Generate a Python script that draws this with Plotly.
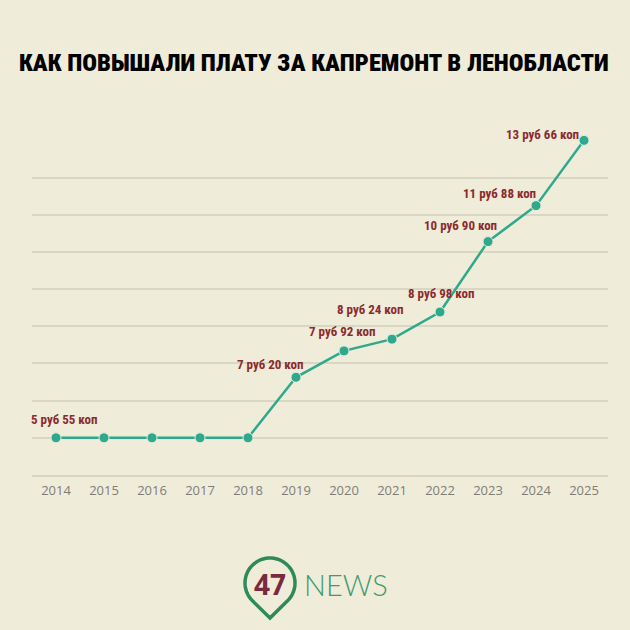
import math
import plotly.graph_objects as go

years = ["2014", "2015", "2016", "2017", "2018", "2019", "2020", "2021", "2022", "2023", "2024", "2025"]
rates = [5.55, 5.55, 5.55, 5.55, 5.55, 7.20, 7.92, 8.24, 8.98, 10.90, 11.88, 13.66]
label_years = ["2014", "2019", "2020", "2021", "2022", "2023", "2024", "2025"]
label_texts = ["5 руб 55 коп", "7 руб 20 коп", "7 руб 92 коп", "8 руб 24 коп",
               "8 руб 98 коп", "10 руб 90 коп", "11 руб 88 коп", "13 руб 66 коп"]
title_text = "КАК ПОВЫШАЛИ ПЛАТУ ЗА КАПРЕМОНТ В ЛЕНОБЛАСТИ"

BG = "#f0ecda"
GRID = "#dad6c4"
LINE = "#2fa98c"
LABEL = "#8a2b2e"
COND = "Liberation Sans Narrow, Roboto Condensed, DejaVu Sans Condensed, Roboto, sans-serif"

# label offsets in pixels (style only)
shifts = [(8, 18), (-26, 13), (-2, 19), (-22, 30), (1, 19), (-28, 16), (-37, 12), (-42, 6)]

L, R, T, B = 32, 22, 140, 155
W = H = 630
ph = H - T - B
pw = W - L - R

def px_x(p):
    return (p - L) / pw

def px_y(p):
    return (H - B - p) / ph

ymin, ymax = min(rates), max(rates)
step = (ymax - ymin) / 8
y0 = ymin - step

fig = go.Figure()
fig.add_trace(go.Scatter(
    x=years, y=rates, mode="lines+markers",
    line=dict(color=LINE, width=2.5),
    marker=dict(color=LINE, size=10, line=dict(color="#e6efe0", width=1)),
    cliponaxis=False, hoverinfo="skip", showlegend=False,
))

for yr, txt, (dx, dy) in zip(label_years, label_texts, shifts):
    i = years.index(yr)
    fig.add_annotation(x=i, y=rates[i], text=txt, showarrow=False,
                       xshift=dx, yshift=dy, xanchor="center", yanchor="middle",
                       font=dict(family=COND, size=13, color=LABEL, weight="bold"))

fig.add_annotation(xref="paper", yref="paper", x=px_x(314), y=px_y(63), text=title_text,
                   showarrow=False, xanchor="center", yanchor="middle",
                   font=dict(family=COND, size=24.5, color="#000000", weight=900))

# logo
fig.add_annotation(xref="paper", yref="paper", x=px_x(270), y=px_y(584), text="47",
                   showarrow=False, xanchor="center", yanchor="middle",
                   font=dict(family="Open Sans, Roboto, sans-serif", size=28, color="#7a2a40", weight="bold"))
fig.add_annotation(xref="paper", yref="paper", x=px_x(302), y=px_y(584), text="NEWS",
                   showarrow=False, xanchor="left", yanchor="middle",
                   font=dict(family="Lato, Open Sans, sans-serif", size=29, color="#3f9a6c", weight=300))

r, tip = 25, 35
th = math.degrees(math.acos(r / tip))
a_start, a_end = -90 + th, 270 - th
pts = []
n = 60
for k in range(n + 1):
    a = math.radians(a_start + (a_end - a_start) * k / n)
    pts.append((r * math.cos(a), r * math.sin(a)))
path = "M {:.2f},{:.2f} ".format(*pts[0]) + " ".join("L {:.2f},{:.2f}".format(x, y) for x, y in pts[1:])
path += " L 0,{} Z".format(-tip)
fig.add_shape(type="path", xref="paper", yref="paper", xsizemode="pixel", ysizemode="pixel",
              xanchor=px_x(270), yanchor=px_y(583), path=path,
              line=dict(color="#2e8a58", width=3.5), fillcolor="rgba(0,0,0,0)")

fig.update_layout(
    width=W, height=H, margin=dict(l=L, r=R, t=T, b=B),
    paper_bgcolor=BG, plot_bgcolor=BG,
    xaxis=dict(type="category", range=[-0.5, len(years) - 0.5], showgrid=False, zeroline=False,
               showline=True, linecolor=GRID, linewidth=1.5, ticks="", ticklabelstandoff=3,
               tickfont=dict(family="Open Sans, sans-serif", size=13, color="#7d7d78"), fixedrange=True),
    yaxis=dict(range=[y0, ymax + 0.01], tick0=y0, dtick=step, showticklabels=False,
               showgrid=True, gridcolor=GRID, gridwidth=1.5, zeroline=False, showline=False, fixedrange=True),
)

fig.write_html("out.html", config={"displayModeBar": False},
               post_script="document.body.style.margin='0';")
